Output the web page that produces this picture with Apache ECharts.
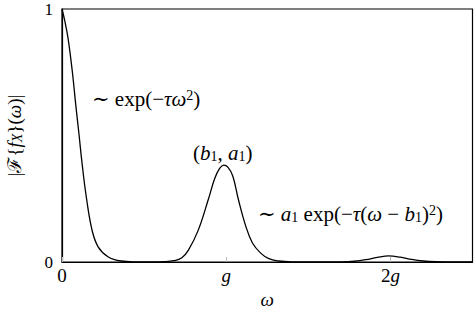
<!DOCTYPE html>
<html>
<head>
<meta charset="utf-8">
<script src="https://cdn.jsdelivr.net/npm/echarts@6/dist/echarts.min.js"></script>
<style>
  html, body { margin: 0; padding: 0; background: #fff; }
  #chart { width: 474px; height: 310px; }
</style>
</head>
<body>
<div id="chart"></div>
<script>
// omega in units of g, magnitude normalised to 1
const omega = [0, 0.018, 0.037, 0.063, 0.084, 0.104, 0.122, 0.148, 0.183, 0.22, 0.28, 0.36, 0.45,
  0.55, 0.62, 0.68, 0.73, 0.77, 0.83, 0.89, 0.93, 0.96, 0.985, 1.01, 1.04, 1.075, 1.12, 1.16, 1.21, 1.26, 1.32, 1.4, 1.5,
  1.6, 1.7, 1.78, 1.85, 1.92, 1.99, 2.06, 2.13, 2.2, 2.28, 2.38, 2.5]
const magnitude = [1.0, 0.95, 0.884, 0.752, 0.62, 0.502, 0.391, 0.257, 0.126, 0.06, 0.021, 0.004, 0.0005,
  0.0, 0.001, 0.005, 0.017, 0.047, 0.126, 0.245, 0.33, 0.37, 0.383, 0.375, 0.34, 0.245, 0.14, 0.075, 0.035, 0.013, 0.004, 0.0005, 0.0,
  0.0, 0.0005, 0.003, 0.009, 0.018, 0.024, 0.019, 0.01, 0.004, 0.001, 0.0, 0.0]
const xTicks = { 0: '{n|0}', 1: '{i|g}', 2: '{n|2}{i|g}' }
const yTicks = { 0: '0', 1: '1' }

const serif = '"Liberation Serif", "DejaVu Serif", serif'
const rich = {
  i: { fontFamily: serif, fontStyle: 'italic', fontSize: 21, color: '#000' },
  n: { fontFamily: serif, fontSize: 21, color: '#000' },
  sup: { fontFamily: serif, fontSize: 14, color: '#000', verticalAlign: 'top' },
  sub: { fontFamily: serif, fontSize: 14, color: '#000', verticalAlign: 'bottom' },
  isub: { fontFamily: serif, fontStyle: 'italic', fontSize: 14, color: '#000', verticalAlign: 'bottom' }
}
const tickRich = {
  i: { fontFamily: serif, fontStyle: 'italic', fontSize: 19, color: '#000' },
  n: { fontFamily: serif, fontSize: 19, color: '#000' }
}

let chart = echarts.init(document.getElementById('chart'), null, { renderer: 'svg' })
chart.setOption({
  animation: false,
  backgroundColor: '#fff',
  grid: {
    left: 62, right: 1.5, top: 9, bottom: 48,
    containLabel: false,
    outerBoundsMode: 'none',
    show: true, borderColor: '#000', borderWidth: 1.2
  },
  xAxis: {
    type: 'value',
    min: 0, max: 2.5, interval: 1,
    name: '{i|ω}',
    nameLocation: 'middle',
    nameGap: 27,
    nameTextStyle: { fontFamily: serif, fontSize: 19, rich: tickRich },
    axisLine: { show: true, lineStyle: { color: '#000', width: 1.2 } },
    axisTick: { show: true, inside: true, length: 5, lineStyle: { color: '#bbb', width: 1 } },
    splitLine: { show: false },
    axisLabel: {
      showMaxLabel: false,
      margin: 4,
      fontFamily: serif, fontSize: 19, color: '#000',
      formatter: v => xTicks[v] !== undefined ? xTicks[v] : '',
      rich: tickRich
    }
  },
  yAxis: {
    type: 'value',
    min: 0, max: 1, interval: 1,
    name: '|ℱ{{i|f}{isub|X}}({i|ω})|',
    nameLocation: 'middle',
    nameGap: 38,
    nameTextStyle: { fontFamily: serif, fontSize: 19, color: '#000', rich: { i: tickRich.i, isub: rich.isub } },
    axisLine: { show: true, lineStyle: { color: '#000', width: 1.2 } },
    axisTick: { show: false },
    splitLine: { show: false },
    axisLabel: {
      margin: 9,
      fontFamily: serif, fontSize: 17, color: '#000',
      formatter: v => yTicks[v] !== undefined ? yTicks[v] : ''
    }
  },
  series: [
    {
      type: 'line',
      data: omega.map((w, k) => [w, magnitude[k]]),
      smooth: 0.4,
      showSymbol: false,
      lineStyle: { color: '#000', width: 1.3 }
    }
  ],
  graphic: [
    {
      type: 'text', left: 92, top: 88,
      style: { text: '{n|∼ exp(−}{i|τω}{sup|2}{n|)}', fontFamily: serif, fontSize: 21, fill: '#000', rich: rich }
    },
    {
      type: 'text', left: 193, top: 142,
      style: { text: '{n|(}{i|b}{sub|1}{n|, }{i|a}{sub|1}{n|)}', fontFamily: serif, fontSize: 21, fill: '#000', rich: rich }
    },
    {
      type: 'text', left: 258, top: 203,
      style: { text: '{n|∼ }{i|a}{sub|1}{n| exp(−}{i|τ}{n|(}{i|ω}{n| − }{i|b}{sub|1}{n|)}{sup|2}{n|)}', fontFamily: serif, fontSize: 21, fill: '#000', rich: rich }
    }
  ]
})
</script>
</body>
</html>
